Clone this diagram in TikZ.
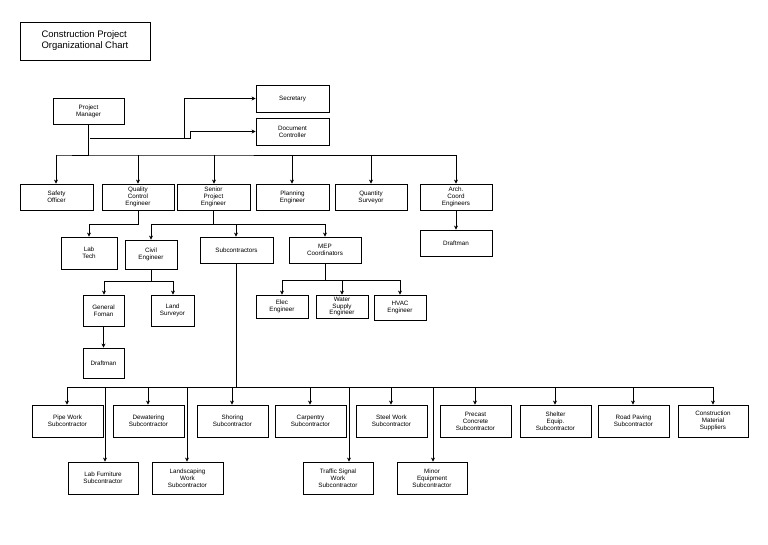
\documentclass[tikz,border=0pt]{standalone}
\usepackage{fontspec}
\setmainfont{Liberation Sans}
\usetikzlibrary{arrows.meta}
\tikzset{
  bx/.style={draw,line width=0.9pt,align=center,inner sep=0pt,font=\fontsize{6.3}{7}\selectfont},
  ln/.style={line width=0.9pt},
  ar/.style={line width=0.9pt,-{Stealth[length=4pt,width=4pt]}}
}
\newcommand{\bxn}[6]{\node[bx,minimum width=#4bp-#2bp,minimum height=#5bp-#3bp] (#1) at ({(#2+#4)/2},{(#3+#5)/2}) {#6};}
\begin{document}
\begin{tikzpicture}[x=1bp,y=-1bp]
\useasboundingbox[fill=white] (0,0) rectangle (768,545);
\node[draw,line width=0.6pt,minimum width=130bp,minimum height=38bp,align=left,font=\fontsize{9.5}{11}\selectfont] (title) at (85,41) {Construction Project\\Organizational Chart};
\bxn{pm}{53}{98}{124}{124}{Project\\Manager}
\bxn{sec}{256}{85}{329}{112}{Secretary}
\bxn{doc}{256}{118}{329}{145}{Document\\Controller}
\bxn{saf}{20}{184}{93}{210}{Safety\\Officer}
\bxn{qc}{102}{184}{174}{210}{Quality\\Control\\Engineer}
\bxn{spe}{177}{184}{250}{210}{Senior\\Project\\Engineer}
\bxn{pe}{256}{184}{329}{210}{Planning\\Engineer}
\bxn{qs}{335}{184}{407}{210}{Quantity\\Surveyor}
\bxn{ace}{420}{184}{492}{210}{Arch.\\Coord\\Engineers}
\bxn{lab}{61}{237}{117}{269}{Lab\\Tech}
\bxn{civ}{125}{240}{177}{269}{Civil\\Engineer}
\bxn{sub}{200}{237}{273}{263}{Subcontractors}
\bxn{mep}{289}{237}{361}{263}{MEP\\Coordinators}
\bxn{dr2}{420}{230}{492}{256}{Draftman}
\bxn{gf}{83}{295}{124}{326}{General\\Foman}
\bxn{ls}{151}{295}{194}{326}{Land\\Surveyor}
\bxn{dr1}{83}{348}{124}{378}{Draftman}
\bxn{el}{256}{295}{308}{318}{Elec\\Engineer}
\bxn{ws}{316}{295}{368}{318}{Water\\Supply\\Engineer}
\bxn{hv}{374}{295}{426}{320}{HVAC\\Engineer}
\bxn{pw}{32}{405}{103}{437}{Pipe Work\\Subcontractor}
\bxn{dw}{113}{405}{184}{437}{Dewatering\\Subcontractor}
\bxn{sh}{197}{405}{268}{437}{Shoring\\Subcontractor}
\bxn{ca}{275}{405}{346}{437}{Carpentry\\Subcontractor}
\bxn{st}{356}{405}{427}{437}{Steel Work\\Subcontractor}
\bxn{pc}{440}{405}{511}{437}{Precast\\Concrete\\Subcontractor}
\bxn{se}{520}{405}{591}{437}{Shelter\\Equip.\\Subcontractor}
\bxn{rp}{598}{405}{669}{437}{Road Paving\\Subcontractor}
\bxn{cm}{678}{405}{748}{437}{Construction\\Material\\Suppliers}
\bxn{lf}{68}{462}{138}{494}{Lab Furniture\\Subcontractor}
\bxn{lw}{152}{462}{223}{494}{Landscaping\\Work\\Subcontractor}
\bxn{ts}{303}{462}{373}{494}{Traffic Signal\\Work\\Subcontractor}
\bxn{me}{397}{462}{467}{494}{Minor\\Equipment\\Subcontractor}
% PM
\draw[ln] (pm.south) |- (56,155) -- (456,155);
\draw[ar] (90,138) -- (184,138) |- (sec.west);
\draw[ar] (184,138) -- (190,138) |- (doc.west);
\foreach \n/\x in {saf/56,qc/138,spe/214,pe/292,qs/371,ace/456}
  \draw[ar] (\x,155) -- (\n.north -| \x,0);
% QC
\draw[ln] (qc.south) |- (89,224);
\draw[ar] (89,224) -- (lab.north -| 89,0);
% SPE
\draw[ln] (spe.south) |- (151,224) (214,224) -- (325,224);
\foreach \n/\x in {civ/151,sub/236,mep/325} \draw[ar] (\x,224) -- (\n.north -| \x,0);
\draw[ar] (ace.south) -- (dr2.north);
% Civil
\draw[ln] (civ.south) |- (104,281) (151,281) -- (173,281);
\draw[ar] (104,281) -- (gf.north -| 104,0);
\draw[ar] (173,281) -- (ls.north -| 173,0);
\draw[ar] (gf.south) -- (dr1.north);
% MEP
\draw[ln] (mep.south) |- (282,280) (325,280) -- (400,280);
\draw[ar] (282,280) -- (el.north -| 282,0);
\draw[ar] (342,280) -- (ws.north -| 342,0);
\draw[ar] (400,280) -- (hv.north -| 400,0);
% Subcontractors
\draw[ln] (sub.south -| 236,0) -- (236,387);
\draw[ln] (67,387) -- (713,387);
\foreach \n/\x in {pw/67,dw/148,sh/232,ca/310,st/391,pc/475,se/555,rp/633,cm/713}
  \draw[ar] (\x,387) -- (\n.north -| \x,0);
\foreach \n/\x in {lf/105,lw/187,ts/349,me/433}
  \draw[ar] (\x,387) -- (\n.north -| \x,0);
\end{tikzpicture}
\end{document}
